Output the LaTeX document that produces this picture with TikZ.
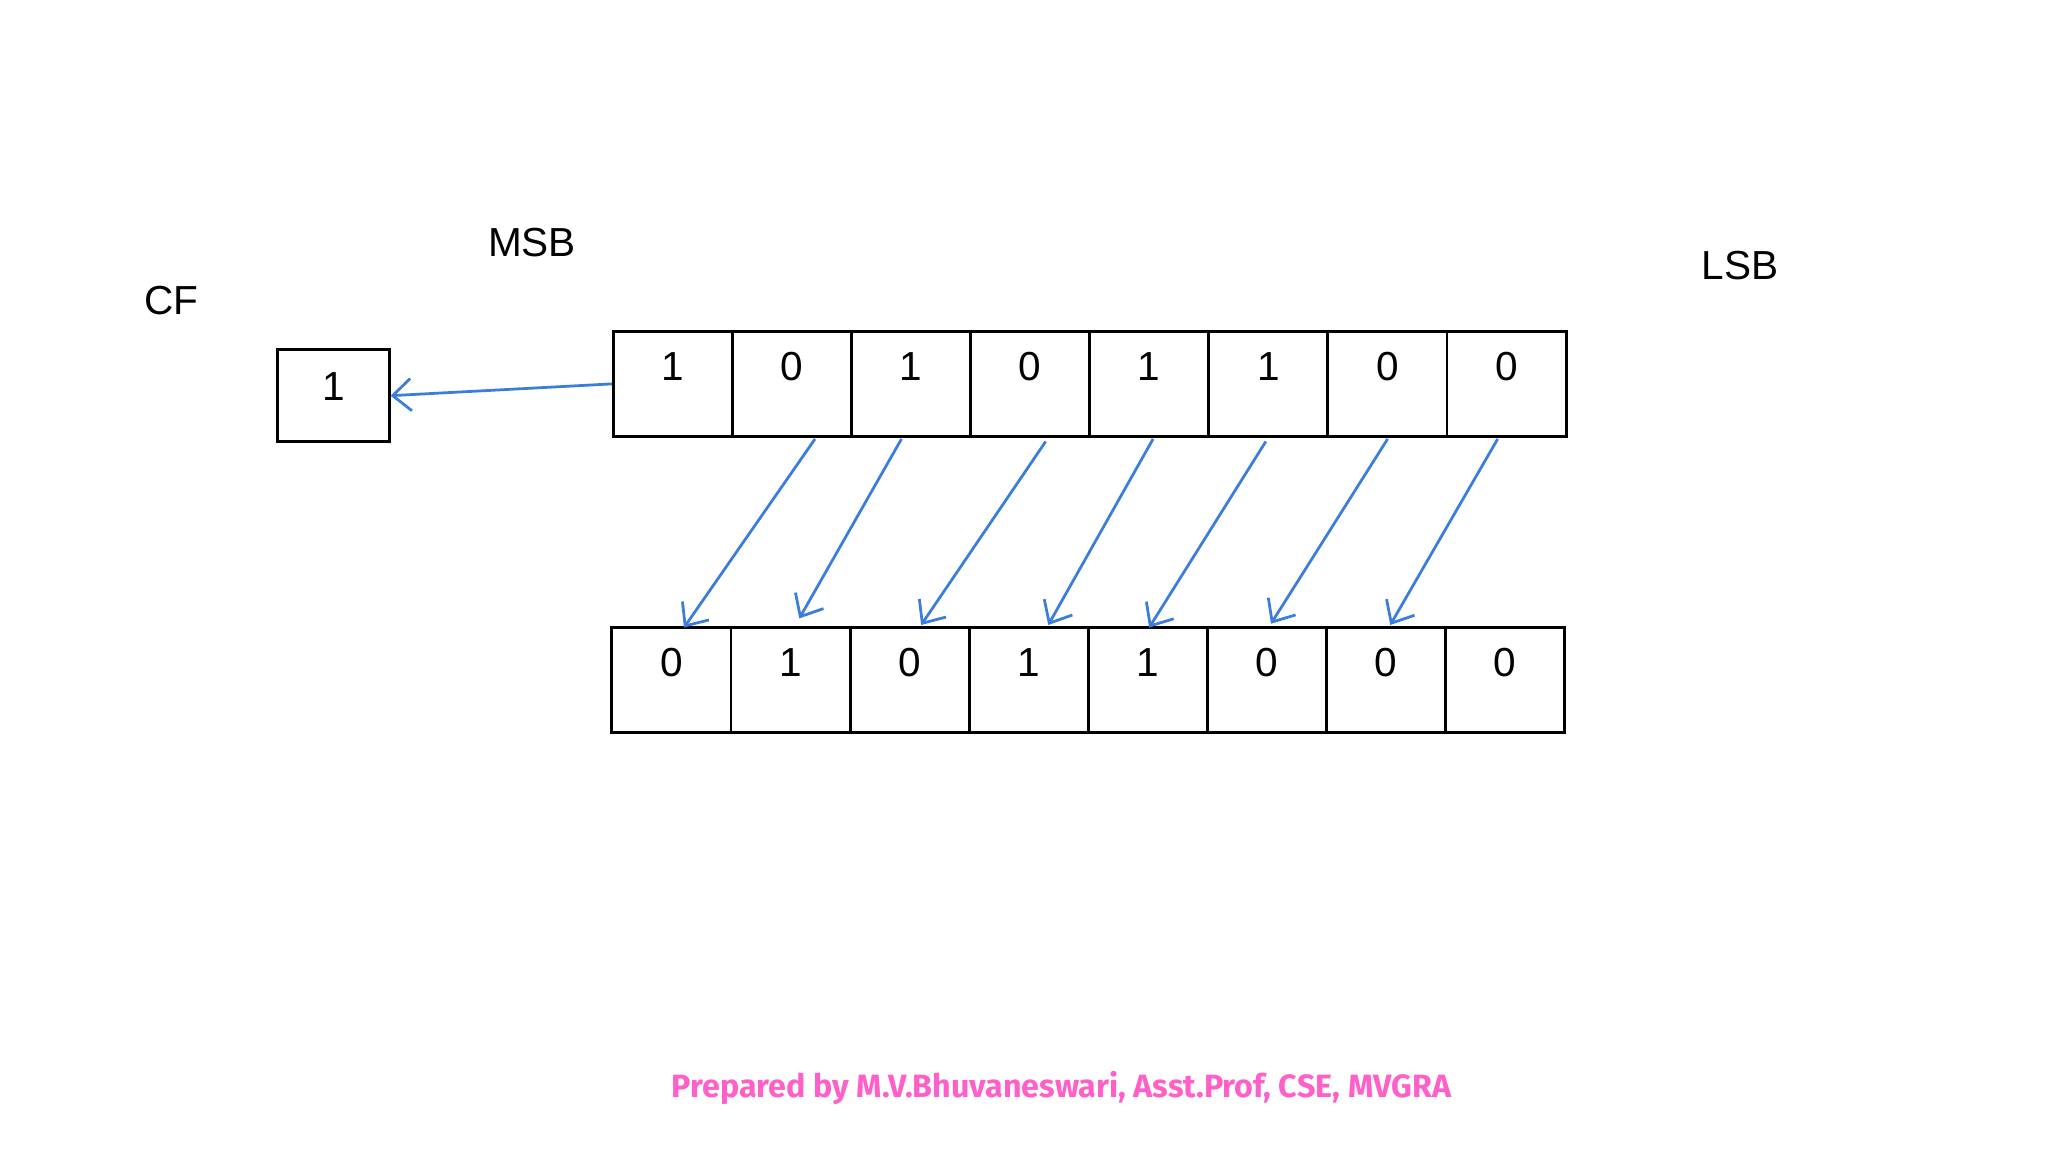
\documentclass[tikz,border=0pt]{standalone}
\usepackage{fontspec}
\setmainfont{Liberation Sans}
\newfontfamily\footfont{Fira Sans}
\usetikzlibrary{arrows.meta}
\definecolor{arr}{HTML}{3B7DDD}
\definecolor{pinkf}{HTML}{FF5FC8}
\begin{document}
\begin{tikzpicture}[x=0.01cm,y=-0.01cm,
  cell/.style={draw,line width=0.6pt,minimum width=0.909cm,minimum height=0.8cm,inner sep=0pt,font=\fontsize{8.8}{10}\selectfont,text depth=0pt},
  lbl/.style={font=\fontsize{8.8}{10}\selectfont},
  conn/.style={arr,line width=0.6pt,-{Straight Barb[length=4pt,width=7pt]}}]
\useasboundingbox (0,0) rectangle (1563,880);
\foreach \v [count=\i] in {1,0,1,0,1,1,0,0}{
  \node[cell] (t\i) at ({468+90.9*(\i-0.5)},293) {};
  \node[lbl] at ({468+90.9*(\i-0.5)},280) {\v};
}
\foreach \v [count=\i] in {0,1,0,1,1,0,0,0}{
  \node[cell] (b\i) at ({467+90.9*(\i-0.5)},519) {};
  \node[lbl] at ({467+90.9*(\i-0.5)},506) {\v};
}
\node[draw,line width=0.6pt,minimum width=0.85cm,minimum height=0.7cm,inner sep=0pt] (cf) at (254.5,302) {};
\node[lbl] at (254.5,295) {1};
\node[lbl] (cfl) at (131,229) {CF};
\node[lbl] (msb) at (406,185) {MSB};
\node[lbl] (lsb) at (1328,203) {LSB};
\draw[conn] (t1.west) -- (cf.east);
\coordinate (s1) at (622,335); \coordinate (e1) at (522,479);
\coordinate (s2) at (688,335); \coordinate (e2) at (610,472);
\coordinate (s3) at (798,337); \coordinate (e3) at (703,477);
\coordinate (s4) at (880,335); \coordinate (e4) at (800,477);
\coordinate (s5) at (966,337); \coordinate (e5) at (877,479);
\coordinate (s6) at (1059,335); \coordinate (e6) at (970,476);
\coordinate (s7) at (1143,335); \coordinate (e7) at (1061,477);
\foreach \i in {1,...,7}{\draw[conn] (s\i) -- (e\i);}
\node[text=pinkf,font=\footfont\bfseries\fontsize{7}{8}\selectfont] (foot) at (810,830) {Prepared by M.V.Bhuvaneswari, Asst.Prof, CSE, MVGRA};
\end{tikzpicture}
\end{document}
